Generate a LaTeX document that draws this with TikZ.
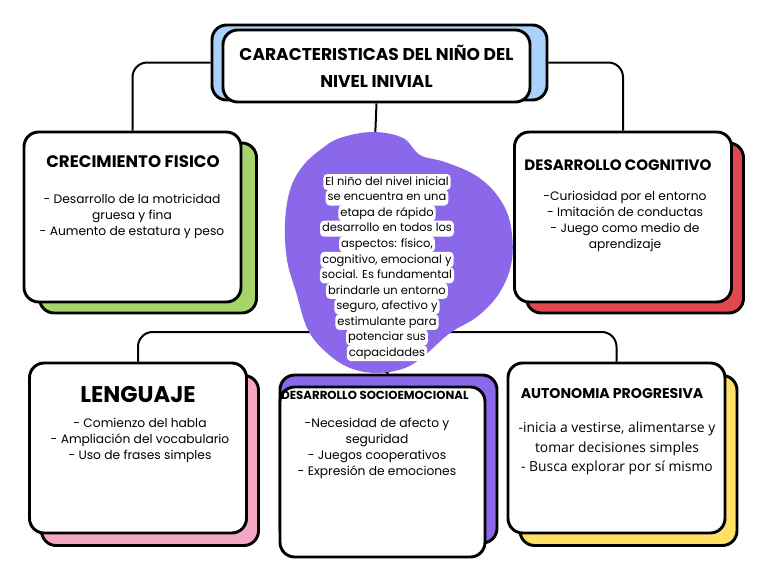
\documentclass[tikz,border=0pt]{standalone}
\usepackage{fontspec}
\setmainfont{Poppins}
\newfontfamily\headfont{Poppins}
\newfontfamily\opensans{Open Sans}
\usepackage{xcolor}
\definecolor{skyblue}{HTML}{A9D1FA}
\definecolor{leafgreen}{HTML}{A6D46B}
\definecolor{coralred}{HTML}{E4484F}
\definecolor{softpink}{HTML}{F4A7C4}
\definecolor{lavender}{HTML}{8B67E9}
\definecolor{sunyellow}{HTML}{FFE066}
\usepackage{tikz}
\usetikzlibrary{positioning,backgrounds}

\begin{document}
\begin{tikzpicture}[
  x=0.75pt, y=-0.75pt,
  card/.style={draw=black, fill=white, line width=2.2pt, rounded corners=11pt, minimum width=162.75pt, minimum height=127.5pt, inner sep=0pt},
  backcard/.style={card, fill=#1},
  head/.style={font=\headfont\bfseries\fontsize{#1}{#1}\selectfont, inner sep=0pt},
  body/.style={font=\fontsize{9.2}{12}\selectfont, align=center, inner sep=0pt},
  blobline/.style={fill=white, rounded corners=3pt, inner sep=1.5pt, text height=7pt, text depth=2pt, font=\fontsize{8.6}{9}\selectfont},
  link/.style={line width=1.5pt, rounded corners=11pt}
]
\useasboundingbox (0,0) rectangle (768,576);

% title
\node[backcard=skyblue, minimum width=251.25pt, minimum height=56.25pt] (titleback) at (379.5,62.5) {};
\node[card, minimum width=230.25pt, minimum height=54pt, align=center, font=\headfont\bfseries\fontsize{12.8}{20}\selectfont] (title) at (376.5,66) {CARACTERISTICAS DEL NIÑO DEL\\NIVEL INIVIAL};

% upper cards
\node[backcard=leafgreen] (crecback) at (148,228) {};
\node[card] (crec) at (132.5,217) {};
\node[backcard=coralred] (cognback) at (635,228) {};
\node[card] (cogn) at (623,217) {};

% lower cards
\node[backcard=softpink] (lengback) at (150,460.5) {};
\node[card] (leng) at (138,448) {};
\node[backcard=lavender, minimum height=126pt] (socioback) at (388.5,459) {};
\node[card, minimum width=153.75pt] (socio) at (382.5,472) {};
\node[backcard=sunyellow] (autonback) at (628.5,460.5) {};
\node[card] (auton) at (616.5,448) {};

% central blob
\fill[lavender] plot[smooth cycle, tension=0.6] coordinates {
  (373,132) (340,138) (320,150) (302,167) (290,190) (285,223) (287,260) (296,292)
  (308,330) (327,353) (350,368) (377,373) (405,368) (425,355) (450,333) (478,316)
  (500,292) (512,260) (510,222) (497,195) (475,175) (445,162) (420,155) (403,138)};
\coordinate (blobtop) at (375,140);
\coordinate (blobbot) at (375,365);
\foreach \txt [count=\i] in {{El niño del nivel inicial}, {se encuentra en una}, {etapa de rápido},
  {desarrollo en todos los}, {aspectos: físico,}, {cognitivo, emocional y}, {social. Es fundamental},
  {brindarle un entorno}, {seguro, afectivo y}, {estimulante para}, {potenciar sus}, {capacidades}}
  \node[blobline] (bl\i) at (387,{182+15.55*(\i-1)}) {\txt};

% connectors
\begin{scope}[on background layer]
\fill[white] (0,0) rectangle (768,576);
\draw[link] (titleback.west) -| (crec.north);
\draw[link] (titleback.east) -| (cogn.north);
\draw[link] (title.south) -- (blobtop);
\coordinate (bus) at (375,332);
\draw[link] (leng.north) |- (bus) -| (auton.north);
\draw[link] (blobbot) -- (socioback.north);
\end{scope}

% card texts
\node[head=12.5] (crechead) at (133,162) {CRECIMIENTO FISICO};
\node[body, anchor=north] (crectext) at (132,194) {- Desarrollo de la motricidad\\gruesa y fina\\- Aumento de estatura y peso};

\node[head=11.3] (cognhead) at (618,165) {DESARROLLO COGNITIVO};
\node[body, anchor=north] (cogntext) at (625,191) {-Curiosidad por el entorno\\- Imitación de conductas\\- Juego como medio de\\aprendizaje};

\node[head=17] (lenghead) at (138,395) {LENGUAJE};
\node[body, anchor=north] (lengtext) at (140,418) {- Comienzo del habla\\- Ampliación del vocabulario\\- Uso de frases simples};

\node[head=8.8] (sociohead) at (375,395) {DESARROLLO SOCIOEMOCIONAL};
\node[body, anchor=north] (sociotext) at (377,418) {-Necesidad de afecto y\\seguridad\\- Juegos cooperativos\\- Expresión de emociones};

\node[head=10.6] (autonhead) at (612,394) {AUTONOMIA PROGRESIVA};
\node[body, anchor=north, font=\opensans\fontsize{10.4}{14.5}\selectfont] (autontext) at (617,422) {-inicia a vestirse, alimentarse y\\tomar decisiones simples\\- Busca explorar por sí mismo};
\end{tikzpicture}
\end{document}
